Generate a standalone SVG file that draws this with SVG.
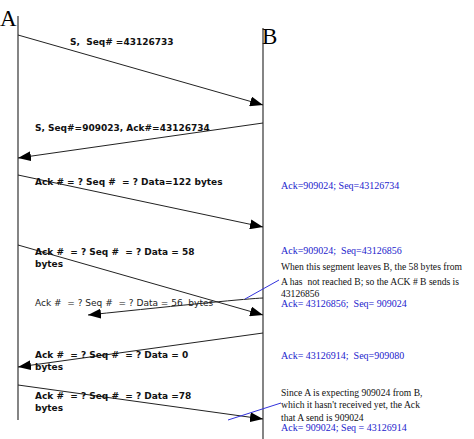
<svg xmlns="http://www.w3.org/2000/svg" width="474" height="439" viewBox="0 0 474 439">
<defs>
<marker id="ah" markerUnits="userSpaceOnUse" markerWidth="14" markerHeight="10" refX="13" refY="5" orient="auto">
<path d="M0,0 L13,5 L0,10 Z" fill="#000"/>
</marker>
<style>
text{white-space:pre}
.ll{stroke:#333;stroke-width:1.2;fill:none}
.ar{stroke:#222;stroke-width:1;fill:none;marker-end:url(#ah)}
.ptr{stroke:#3333dd;stroke-width:1;fill:none}
.big{font-family:"Liberation Serif",serif;font-size:23px;fill:#000}
.lb{font-family:"DejaVu Sans",sans-serif;font-size:9px;font-weight:bold;fill:#111}
.ln{font-family:"DejaVu Sans",sans-serif;font-size:9px;fill:#222}
.bl{font-family:"Liberation Serif",serif;font-size:10px;fill:#2222cc}
.bk{font-family:"Liberation Serif",serif;font-size:9.6px;fill:#111}
</style>
</defs>
<rect width="474" height="439" fill="#fff"/>
<g id="nodeA">
<line class="ll" x1="18" y1="16" x2="18" y2="420"/>
<text class="big" x="0" y="26">A</text>
</g>
<g id="nodeB">
<line class="ll" x1="263" y1="28" x2="263" y2="439"/>
<text class="big" x="262" y="44">B</text>
</g>
<g id="connectors">
<line class="ar" x1="18" y1="35" x2="263" y2="105"/>
<line class="ar" x1="263" y1="123" x2="18" y2="158"/>
<line class="ar" x1="18" y1="175" x2="263" y2="227"/>
<line class="ar" x1="18" y1="245" x2="263" y2="315"/>
<path class="ar" d="M263,298 Q240,299 88,315"/>
<line class="ar" x1="263" y1="333" x2="18" y2="367"/>
<line class="ar" x1="18" y1="385" x2="263" y2="419"/>
<line class="ptr" x1="279" y1="280" x2="245" y2="299"/>
<line class="ptr" x1="281" y1="403" x2="228" y2="420"/>
</g>
<g id="labels">
<text class="lb" x="70" y="45">S,  Seq# =43126733</text>
<text class="lb" x="35" y="131">S, Seq#=909023, Ack#=43126734</text>
<text class="lb" x="35" y="185">Ack # = ? Seq #  = ? Data=122 bytes</text>
<text class="lb" x="35" y="255">Ack #  = ? Seq #  = ? Data = 58</text>
<text class="lb" x="35" y="267">bytes</text>
<text class="ln" x="35" y="306">Ack #  = ? Seq #  = ? Data = 56  bytes</text>
<text class="lb" x="35" y="358">Ack #  = ? Seq #  = ? Data = 0</text>
<text class="lb" x="35" y="370">bytes</text>
<text class="lb" x="35" y="399">Ack #  = ? Seq #  = ? Data =78</text>
<text class="lb" x="35" y="411">bytes</text>
</g>
<g id="notes">
<text class="bl" x="281" y="189">Ack=909024; Seq=43126734</text>
<text class="bl" x="281" y="254">Ack=909024;  Seq=43126856</text>
<text class="bk" x="281" y="270">When this segment leaves B, the 58 bytes from</text>
<text class="bk" x="281" y="285">A has  not reached B; so the ACK # B sends is</text>
<text class="bk" x="281" y="297">43126856</text>
<text class="bl" x="281" y="307">Ack= 43126856;  Seq= 909024</text>
<text class="bl" x="281" y="359">Ack= 43126914;  Seq=909080</text>
<text class="bk" x="281" y="396">Since A is expecting 909024 from B,</text>
<text class="bk" x="281" y="408">which it hasn't received yet, the Ack</text>
<text class="bk" x="281" y="421">that A send is 909024</text>
<text class="bl" x="281" y="431">Ack= 909024; Seq = 43126914</text>
</g>
</svg>
